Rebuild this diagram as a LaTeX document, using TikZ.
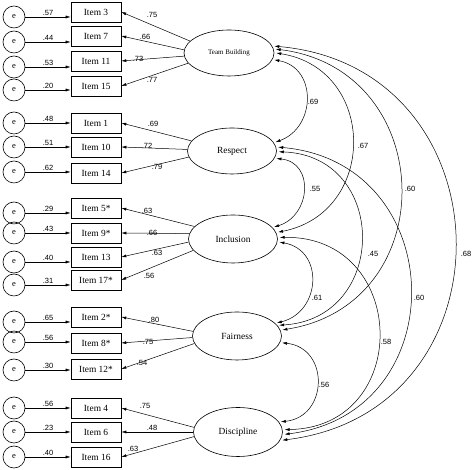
\documentclass[tikz,border=0pt]{standalone}
\usepackage{fontspec}
\setmainfont{Liberation Serif}
\newfontfamily\numsans{Liberation Sans}
\usetikzlibrary{shapes.geometric,arrows.meta,calc}
\begin{document}
\begin{tikzpicture}[x=1pt,y=1pt,
  itembox/.style={draw, line width=0.6pt, minimum width=50pt, minimum height=20pt, inner sep=0pt, font=\fontsize{9.4}{10}\selectfont},
  errc/.style={draw, circle, minimum size=22pt, inner sep=0pt, line width=0.6pt, font=\fontsize{8.5}{9}\selectfont},
  fac/.style={draw, ellipse, minimum width=89pt, minimum height=47pt, inner sep=0pt, line width=0.6pt, font=\fontsize{9.4}{10}\selectfont},
  num/.style={font=\numsans\fontsize{7.5}{8}\selectfont, inner sep=0pt},
  arr/.style={-{Latex[length=5pt,width=3pt]}, line width=0.5pt},
  cov/.style={{Latex[length=5pt,width=3pt]}-{Latex[length=5pt,width=3pt]}, line width=0.5pt}]
\useasboundingbox (0,0) rectangle (474,470);

% factors
\node[fac, minimum width=90pt, minimum height=46pt, font=\fontsize{7}{8}\selectfont] (fTB) at (229,417) {Team Building};
\node[fac, minimum height=46pt] (fRe) at (232,319) {Respect};
\node[fac, minimum height=48pt] (fIn) at (233,231) {Inclusion};
\node[fac, minimum height=48pt] (fFa) at (237,134) {Fairness};
\node[fac, minimum height=49pt] (fDi) at (238,38) {Discipline};

% items, error terms, error arrows
\foreach \i/\t/\iy/\ey/\v in {
  i3/Item 3/458/453/.57, i7/Item 7/434/428/.44, i11/Item 11/409/403/.53, i15/Item 15/384/380/.20,
  i1/Item 1/347/347/.48, i10/Item 10/323/323/.51, i14/Item 14/297/298/.62,
  i5/Item 5*/262/257/.29, i9/Item 9*/237/237/.43, i13/Item 13/213/208/.40, i17/Item 17*/190/185/.31,
  i2/Item 2*/153/148/.65, i8/Item 8*/127/128/.56, i12/Item 12*/101/100/.30,
  i4/Item 4/62/62/.56, i6/Item 6/38/38/.23, i16/Item 16/13/13/.40}{
  \node[itembox] (\i) at (96,\iy) {\t};
  \node[errc] (e\i) at (14,\ey) {e};
  \draw[arr] (e\i.east) -- node[num, above=1.2pt] (n\i) {\v} (e\i.east -| \i.west);
}

% loadings
\draw[arr] (fTB.163) -- (i3.east);
\draw[arr] (fTB.176) -- (i7.east);
\draw[arr] (fTB.184) -- (i11.east);
\draw[arr] (fTB.194) -- (i15.east);
\draw[arr] (fRe.166) -- (i1.east);
\draw[arr] (fRe.178) -- (i10.east);
\draw[arr] (fRe.188) -- (i14.east);
\draw[arr] (fIn.162) -- (i5.east);
\draw[arr] (fIn.173) -- (i9.east);
\draw[arr] (fIn.184) -- (i13.east);
\draw[arr] (fIn.196) -- (i17.east);
\draw[arr] (fFa.174) -- (i2.east);
\draw[arr] (fFa.182) -- (i8.east);
\draw[arr] (fFa.190) -- (i12.east);
\draw[arr] (fDi.174) -- (i4.east);
\draw[arr] (fDi.180) -- (i6.east);
\draw[arr] (fDi.186) -- (i16.east);

% loading labels
\foreach \n/\x/\y/\v in {
  a1/152/455/.75, a2/145/433/.66, a3/138/411/.73, a4/152/390/.77,
  b1/153/346/.69, b2/147/324/.72, b3/157/303/.79,
  c1/147/259/.63, c2/152/237/.66, c3/157/217/.63, c4/149/194/.56,
  d1/154/150/.80, d2/148/128/.75, d3/142/107/.54,
  g1/145/64/.75, g2/152/42/.48, g3/133/21/.63}{
  \node[num] (\n) at (\x,\y) {\v};
}

% covariances
\draw[cov] ([xshift=2pt]fTB.-9) .. controls +(-10:43.5) and +(20:43.5) .. ([xshift=2pt]fRe.12);
\draw[cov] ([xshift=2pt]fRe.-10) .. controls +(-6:38.6) and +(17:38.6) .. ([xshift=2pt]fIn.17);
\draw[cov] ([xshift=2pt]fIn.-4) .. controls +(-10:45.7) and +(14:45.7) .. ([xshift=2pt]fFa.19);
\draw[cov] ([xshift=2pt]fFa.-9) .. controls +(-6:47.9) and +(6:47.9) .. ([xshift=2pt]fDi.14);
\draw[cov] ([xshift=2pt]fTB.0) .. controls +(-9:102) and +(11:102) .. ([xshift=2pt]fIn.9);
\draw[cov] ([xshift=2pt]fTB.5) .. controls +(-7:164) and +(9:164) .. ([xshift=2pt]fFa.8);
\draw[cov] ([xshift=2pt]fTB.9) .. controls +(-5:237) and +(7:237) .. ([xshift=2pt]fDi.-11);
\draw[cov] ([xshift=2pt]fRe.-1) .. controls +(-2:110) and +(3.5:110) .. ([xshift=2pt]fFa.15);
\draw[cov] ([xshift=2pt]fRe.5) .. controls +(-5:173) and +(7:173) .. ([xshift=2pt]fDi.-3);
\draw[cov] ([xshift=2pt]fIn.2) .. controls +(1:129) and +(1:129) .. ([xshift=2pt]fDi.3);

% covariance labels
\node[num] (k1) at (313,368) {.69};
\node[num] (k2) at (315,281) {.55};
\node[num] (k3) at (317,172) {.61};
\node[num] (k4) at (324,85) {.56};
\node[num] (k5) at (363,324) {.67};
\node[num] (k6) at (410,281) {.60};
\node[num] (k7) at (466,216) {.68};
\node[num] (k8) at (373,216) {.45};
\node[num] (k9) at (419,172) {.60};
\node[num] (k10) at (386,128) {.58};
\end{tikzpicture}
\end{document}
